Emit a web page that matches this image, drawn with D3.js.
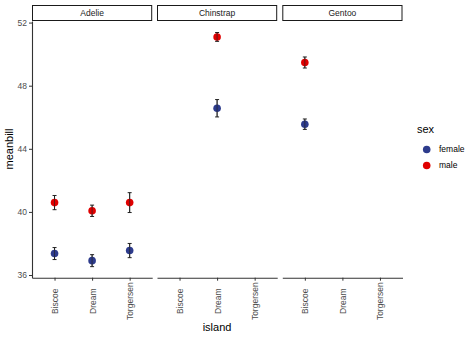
<!DOCTYPE html>
<html><head><meta charset="utf-8">
<script src="https://cdn.jsdelivr.net/npm/d3@7"></script>
<style>body{margin:0;background:#fff;} text{font-family:"Liberation Sans",Arial,sans-serif;}</style>
</head><body>
<svg id="c" width="474" height="338"></svg>
<script>
const species = ["Adelie", "Chinstrap", "Gentoo"];
const islands = ["Biscoe", "Dream", "Torgersen"];
const sexes = ["female", "male"];
const colors = ["#2D3B8C", "#E00000"];
const yTicks = [36, 40, 44, 48, 52];
// rows: species, island, sex, mean, se
const rowSpecies = ["Adelie","Adelie","Adelie","Adelie","Adelie","Adelie","Chinstrap","Chinstrap","Gentoo","Gentoo"];
const rowIsland  = ["Biscoe","Biscoe","Dream","Dream","Torgersen","Torgersen","Dream","Dream","Biscoe","Biscoe"];
const rowSex     = ["female","male","female","male","female","male","female","male","female","male"];
const rowMean    = [37.36, 40.59, 36.91, 40.07, 37.55, 40.59, 46.57, 51.09, 45.56, 49.47];
const rowSE      = [0.38, 0.45, 0.38, 0.36, 0.45, 0.63, 0.55, 0.28, 0.33, 0.35];

const data = rowMean.map((m,i)=>({species:rowSpecies[i], island:rowIsland[i], sex:rowSex[i], mean:m, se:rowSE[i]}));

const svg = d3.select("#c");
const panelTop = 21, panelBottom = 277.7;
const panelX = [32, 157, 282.3], panelW = 120.2;
const y = d3.scaleLinear().domain([35.83, 52.1]).range([panelBottom, panelTop]);
const color = d3.scaleOrdinal().domain(sexes).range(colors);

species.forEach((sp, si) => {
  const x0 = panelX[si];
  const x = d3.scalePoint().domain(islands).range([x0, x0 + panelW]).padding(0.6);
  // strip
  svg.append("rect").attr("x", x0+0.5).attr("y", 5.5).attr("width", panelW-1).attr("height", 15)
    .attr("fill", "#fff").attr("stroke", "#1a1a1a").attr("stroke-width", 1);
  svg.append("text").attr("x", x0 + panelW/2).attr("y", 16.3).attr("text-anchor", "middle")
    .attr("font-size", 8.5).attr("fill", "#1a1a1a").text(sp);
  // x axis
  const gx = svg.append("g").attr("transform", `translate(0,${panelBottom})`)
    .call(d3.axisBottom(x).tickSize(3).tickSizeOuter(0));
  gx.select(".domain").attr("stroke", "#333").attr("stroke-width", 1.1);
  gx.selectAll(".tick line").attr("stroke", "#333");
  gx.selectAll(".tick text").attr("transform", "rotate(-90)").attr("text-anchor", "middle")
    .attr("x", -23.5).attr("y", 0).attr("dy", "0.35em").attr("font-size", 8.5).attr("fill", "#4d4d4d")
    .attr("font-family", "Liberation Sans, Arial, sans-serif");
  if (si === 0) {
    const gy = svg.append("g").attr("transform", `translate(${x0},0)`)
      .call(d3.axisLeft(y).tickValues(yTicks).tickSize(3).tickSizeOuter(0));
    gy.select(".domain").attr("stroke", "#333").attr("stroke-width", 1.1);
    gy.selectAll(".tick line").attr("stroke", "#333");
    gy.selectAll(".tick text").attr("font-size", 8.5).attr("fill", "#4d4d4d").attr("x", -5)
      .attr("font-family", "Liberation Sans, Arial, sans-serif");
  }
  const pd = data.filter(d => d.species === sp);
  const g = svg.append("g");
  const w = 2;
  pd.forEach(d => {
    const cx = x(d.island);
    const yt = y(d.mean + d.se), yb = y(d.mean - d.se);
    g.append("line").attr("x1", cx).attr("x2", cx).attr("y1", yt).attr("y2", yb).attr("stroke", "#222").attr("stroke-width", 1);
    g.append("line").attr("x1", cx-w).attr("x2", cx+w).attr("y1", yt).attr("y2", yt).attr("stroke", "#222").attr("stroke-width", 1);
    g.append("line").attr("x1", cx-w).attr("x2", cx+w).attr("y1", yb).attr("y2", yb).attr("stroke", "#222").attr("stroke-width", 1);
  });
  pd.forEach(d => {
    g.append("circle").attr("cx", x(d.island)).attr("cy", y(d.mean)).attr("r", 3.8).attr("fill", color(d.sex));
  });
  pd.forEach(d => {
    const cx = x(d.island);
    g.append("line").attr("x1", cx).attr("x2", cx).attr("y1", y(d.mean + d.se)).attr("y2", y(d.mean - d.se)).attr("stroke", "#222").attr("stroke-width", 0.8).attr("opacity", 0.8);
  });
});

// axis titles
svg.append("text").attr("x", 217).attr("y", 331).attr("text-anchor", "middle").attr("font-size", 11).attr("fill", "#000").text("island");
svg.append("text").attr("transform", "translate(13,149) rotate(-90)").attr("text-anchor", "middle").attr("font-size", 11).attr("fill", "#000").text("meanbill");

// legend
const lg = svg.append("g");
lg.append("text").attr("x", 417).attr("y", 133).attr("font-size", 11).attr("fill", "#000").text("sex");
sexes.forEach((s, i) => {
  lg.append("circle").attr("cx", 426.7).attr("cy", 149.5 + i*16).attr("r", 3.8).attr("fill", color(s));
  lg.append("text").attr("x", 439).attr("y", 149.5 + i*16).attr("dy", "0.35em").attr("font-size", 8.5).attr("fill", "#000").text(s);
});
</script>
</body></html>
